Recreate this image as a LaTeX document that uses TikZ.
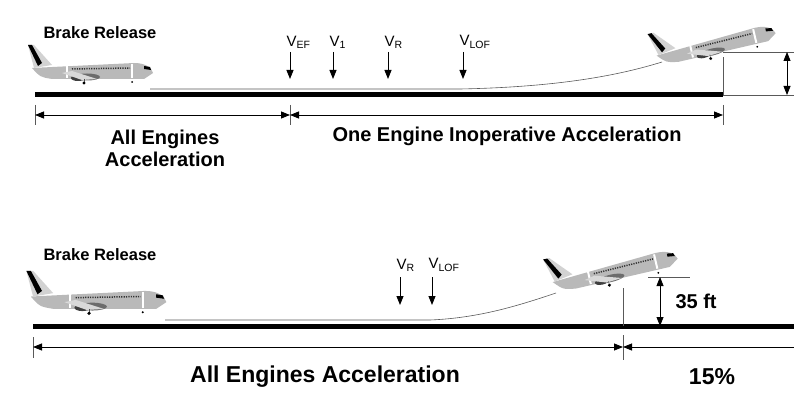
\documentclass[tikz,border=0pt]{standalone}
\usepackage{fontspec}
\setmainfont{Liberation Sans}
\usetikzlibrary{arrows.meta}
\begin{document}
\begin{tikzpicture}[x=1pt,y=-1pt,
  rw/.style={line width=5pt},
  thin/.style={line width=0.6pt,gray!70!black},
  dim/.style={line width=0.8pt,{Triangle[length=9pt,width=7pt]}-{Triangle[length=9pt,width=7pt]}},
  va/.style={line width=0.9pt,-{Triangle[length=9pt,width=7pt]}},
  lbl/.style={font=\fontsize{20}{22}\selectfont\bfseries,align=center},
  vl/.style={font=\fontsize{15}{17}\selectfont},
  brk/.style={font=\fontsize{16.5}{18}\selectfont\bfseries},
  plane/.pic={
    \fill[gray!55] (-60,-4) -- (42,-9) .. controls (54,-9) and (60,-4) .. (61,1) -- (52,7) -- (-40,7) .. controls (-52,5) .. (-60,-4) -- cycle;
    \fill[gray!35] (-58,-4) -- (-64,-27) -- (-58,-27) -- (-40,-7) -- cycle;
    \fill[black] (-64,-27) -- (-60,-27) -- (-50,-9) -- (-54,-6) -- cycle;
    \fill[black] (52,-6) -- (58,-5) -- (59,-2) -- (52,-3) -- cycle;
    \draw[white,line width=2pt] (-25,-7) -- (-25,6) (40,-8) -- (40,6);
    \draw[black!80,line width=1.5pt,dash pattern=on 1.2pt off 1.2pt] (-20,-3) -- (38,-4);
    \fill[gray!85!black] (-5,5) ellipse (13pt and 3.5pt);
    \fill[black!75] (-14,6) ellipse (7pt and 3pt);
    \fill[gray!30] (-30,1) -- (-10,8) -- (5,7) -- (-20,-1) -- cycle;
    \fill[black] (-8,11) circle (1.6pt) (40,10) circle (1pt);
    \draw[black!70] (-8,7) -- (-8,10);
  }]
\useasboundingbox (0,0) rectangle (794,417);
% ---------- top ----------
\node[brk] (br1) at (100,33) {Brake Release};
\draw[rw] (35,95) coordinate (r1a) -- (723,95) coordinate (r1b);
\draw[thin] (150,89) coordinate (g1) -- (460,89) .. controls (560,87) and (620,75) .. (662,62) coordinate (g2);
\pic at (92,72) {plane};
\pic[rotate=13] at (716,46) {plane};
\draw[thin] (r1b) -- (723,57) coordinate (lo1);
\draw[thin] (723,52) -- (794,52) (723,95) -- (794,95);
\draw[dim] (787,52) coordinate (h1a) -- (787,95) coordinate (h1b);
\foreach \x/\t/\n in {290/{V\textsubscript{EF}}/vef,333/{V\textsubscript{1}}/v1,388/{V\textsubscript{R}}/vr,463/{V\textsubscript{LOF}}/vlof}{
  \node[vl,anchor=west] (\n) at (\x-7,42) {\t};
  \coordinate (\n e) at (\x,79);
  \draw[va] (\x,52) -- (\n e);
}
\draw[thin] (35,105) -- (35,125) (290,105) -- (290,125) (723,105) -- (723,125);
\coordinate (d1a) at (35,115); \coordinate (d1b) at (290,115); \coordinate (d1c) at (723,115);
\draw[dim] (d1a) -- (d1b);
\draw[dim] (d1b) -- (d1c);
\node[lbl] (t1) at (165,148) {All Engines\\Acceleration};
\node[lbl] (t2) at (507,136) {One Engine Inoperative Acceleration};
% ---------- bottom ----------
\node[brk] (br2) at (100,255) {Brake Release};
\draw[rw] (33,326) coordinate (r2a) -- (794,326);
\draw[thin] (165,320) -- (430,320) .. controls (480,318) and (520,305) .. (556,293);
\pic[scale=1.12] at (98,301) {plane};
\pic[scale=1.05,rotate=13] at (615,272) {plane};
\foreach \x/\t/\n in {400/{V\textsubscript{R}}/bvr,432/{V\textsubscript{LOF}}/bvlof}{
  \node[vl,anchor=west] (\n) at (\x-7,265) {\t};
  \coordinate (\n e) at (\x,305);
  \draw[va] (\x,277) -- (\n e);
}
\draw[thin] (623,326) -- (623,288);
\draw[thin] (648,277) -- (690,277);
\draw[dim] (660,277) -- (660,326);
\node[font=\fontsize{20}{22}\selectfont\bfseries,anchor=west] (ft) at (672,301) {35 ft};
\coordinate (d2a) at (33,347); \coordinate (d2b) at (623,347);
\draw[thin] (33,337) -- (33,358) (623,335) -- (623,360);
\draw[dim] (d2a) -- (d2b);
\draw[line width=0.8pt,{Triangle[length=9pt,width=7pt]}-] (d2b) -- (794,347);
\node[font=\fontsize{23}{25}\selectfont\bfseries] (t3) at (325,377) {All Engines Acceleration};
\node[font=\fontsize{23}{25}\selectfont\bfseries] (t4) at (712,377) {15\%};
\end{tikzpicture}
\end{document}
